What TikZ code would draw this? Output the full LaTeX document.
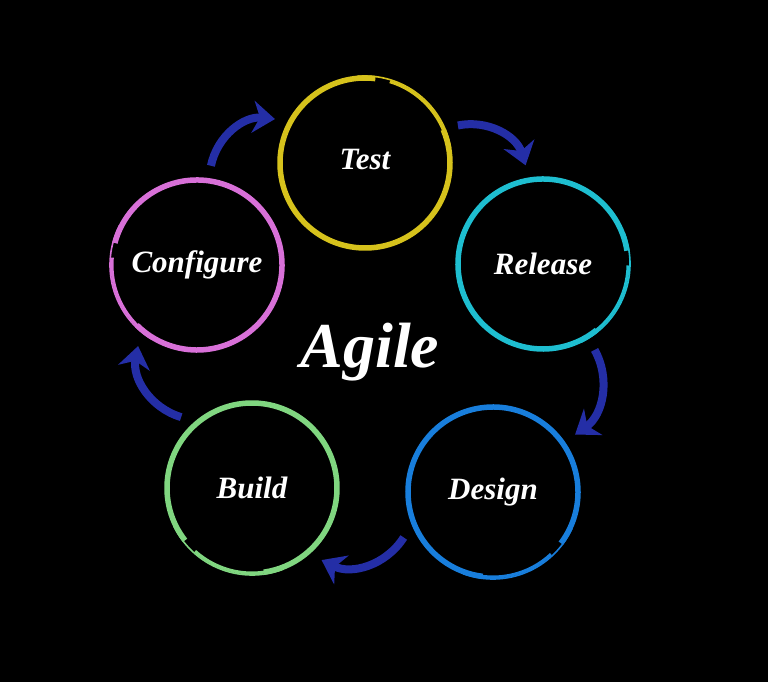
\documentclass[tikz,border=0pt]{standalone}
\usepackage{fontspec}
\setmainfont{Liberation Serif}
\usetikzlibrary{arrows.meta,positioning}

\definecolor{ringyellow}{RGB}{214,194,28}
\definecolor{ringcyan}{RGB}{30,190,208}
\definecolor{ringblue}{RGB}{24,126,220}
\definecolor{ringgreen}{RGB}{128,214,128}
\definecolor{ringpink}{RGB}{216,112,216}
\definecolor{arrowblue}{RGB}{36,46,166}

% brush ring round a node: node, colour, end angle of the stroke, direction
\newcommand\ring[4]{%
\draw[#2,line width=5.5pt] (#1.center) ++({#3}:85pt) arc[start angle={#3}, delta angle={#4*300}, radius=85pt];
\draw[#2,line width=3pt] (#1.center) ++({#3+#4*290}:85pt) arc[start angle={#3+#4*290}, delta angle={#4*60}, radius=85pt];
\draw[#2,line width=1.6pt,line cap=round] (#1.center) ++({#3+#4*12}:87pt) arc[start angle={#3+#4*12}, delta angle={-#4*85}, radius=87pt];
}

\begin{document}
\begin{tikzpicture}[x=1pt,y=1pt,
  phase/.style={circle,minimum size=200pt,inner sep=0pt,text=white,font=\fontsize{31}{36}\selectfont\bfseries\itshape},
  title/.style={text=white,font=\fontsize{64}{70}\selectfont\bfseries\itshape},
  flow/.style={draw=arrowblue,line width=8pt,-{Stealth[length=22pt,width=32pt,inset=7pt]},bend left=42}
]
\fill[black] (0,0) rectangle (768,682);

\node[phase] at (365,519) (test) {\raisebox{7pt}{Test}};
\node[phase] at (543,418) (release) {Release};
\node[phase] at (493,190) (design) {Design};
\node[phase] at (252,194) (build) {Build};
\node[phase] at (197,417) (configure) {Configure};

\node[title] at (370,330) (agile) {Agile};

\ring{test}{ringyellow}{83}{1}
\ring{release}{ringcyan}{9}{1}
\ring{design}{ringblue}{-37}{1}
\ring{build}{ringgreen}{218}{-1}
\ring{configure}{ringpink}{165}{-1}

\path
(test.22) edge[flow] (release.100)
(release.-59) edge[flow] (design.35)
(design.207) edge[flow] (build.-46)
(build.135) edge[flow] (configure.234)
(configure.82) edge[flow] (test.154);

\end{tikzpicture}
\end{document}
